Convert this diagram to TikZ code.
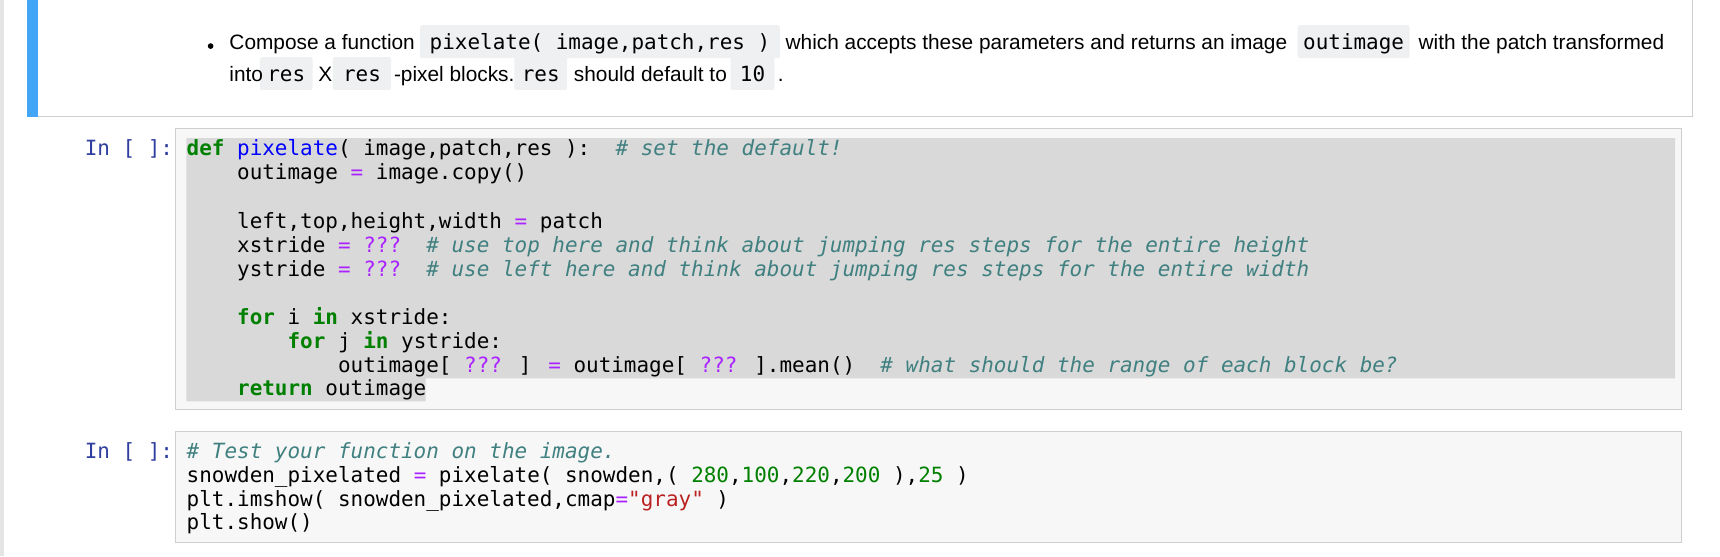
\documentclass[tikz,border=0pt]{standalone}
\usepackage{fontspec}
\setmainfont{Liberation Sans}
\newfontfamily\codefont{DejaVu Sans Mono}
\definecolor{kwc}{HTML}{008000}
\definecolor{fnc}{HTML}{0000FF}
\definecolor{cmc}{HTML}{408080}
\definecolor{opc}{HTML}{AA22FF}
\definecolor{stc}{HTML}{BA2121}
\definecolor{promptc}{HTML}{303F9F}
\definecolor{cellbg}{HTML}{F7F7F7}
\definecolor{cellbd}{HTML}{CFCFCF}
\definecolor{selbg}{HTML}{D9D9D9}
\definecolor{chipbg}{HTML}{EEF0F2}
\definecolor{bluebar}{HTML}{42A5F5}
\newcommand\kw[1]{\textcolor{kwc}{\bfseries #1}}
\newcommand\fnm[1]{\textcolor{fnc}{#1}}
\newcommand\cmt[1]{\textcolor{cmc}{\itshape #1}}
\newcommand\opr[1]{\textcolor{opc}{#1}}
\newcommand\numb[1]{\textcolor{kwc}{#1}}
\newcommand\strg[1]{\textcolor{stc}{#1}}
\newcommand\ind[1]{\hspace*{#1\dimexpr 11.5pt\relax}}
\begin{document}
\begin{tikzpicture}[x=1pt,y=-1pt,scale=1.097,every node/.append style={transform shape},
  code/.style={anchor=base west,inner sep=0pt,font=\codefont\fontsize{19.1}{21}\selectfont},
  md/.style={anchor=base west,inner sep=0pt,font=\fontsize{19}{22}\selectfont},
  chip/.style={fill=chipbg,rounded corners=2pt,inner sep=0pt},
  prompt/.style={anchor=base east,inner sep=0pt,text=promptc,font=\codefont\fontsize{19.1}{21}\selectfont}]
\useasboundingbox (0,0) rectangle (1568,507);
\fill[white] (0,0) rectangle (1568,507);
\fill[gray!20] (0,0) rectangle (4,507);
% markdown cell
\draw[cellbd,line width=1.5pt] (1543,0) -- (1543,106) -- (25,106);
\fill[bluebar] (25,0) rectangle (35,107);
\fill (192,42) circle (2.6);
\node[chip,minimum width=328,minimum height=30] (c1) at (547,38) {};
\node[chip,minimum width=102,minimum height=30] (c2) at (1234,38) {};
\node[chip,minimum width=48,minimum height=30] (c3) at (261,67) {};
\node[chip,minimum width=53,minimum height=30] (c4) at (330,67) {};
\node[chip,minimum width=48,minimum height=30] (c5) at (493,67) {};
\node[chip,minimum width=40,minimum height=30] (c6) at (686,67) {};
\node[md] (t1) at (209,45) {Compose a function};
\node[code,anchor=base] (k1) at (547,45) {pixelate(\ image,patch,res\ )};
\node[md] (t2) at (716,45) {which accepts these parameters and returns an image};
\node[code,anchor=base] (k2) at (1234,45) {outimage};
\node[md] (t3) at (1293,45) {with the patch transformed};
\node[md] (t4) at (209,74) {into};
\node[code,anchor=base] (k3) at (261,74) {res};
\node[md] (t5) at (290,74) {X};
\node[code,anchor=base] (k4) at (330,74) {res};
\node[md] (t6) at (359,74) {-pixel blocks.};
\node[code,anchor=base] (k5) at (493,74) {res};
\node[md] (t7) at (523,74) {should default to};
\node[code,anchor=base] (k6) at (686,74) {10};
\node[md] (t8) at (709,74) {.};
% code cell 1
\draw[cellbd,fill=cellbg,line width=1pt] (160,117) rectangle (1533,373);
\fill[selbg] (170,126) -- (1527,126) -- (1527,345) -- (388,345) -- (388,366) -- (170,366) -- cycle;
\node[prompt] (p1) at (158,142) {In [ ]:};
\node[code] (l1) at (170,142) {\kw{def} \fnm{pixelate}( image,patch,res ):\ \ \cmt{\# set the default!}};
\node[code] (l2) at (170,164) {\ind{4}outimage \opr{=} image.copy()};
\node[code] (l4) at (170,208) {\ind{4}left,top,height,width \opr{=} patch};
\node[code] (l5) at (170,230) {\ind{4}xstride \opr{=} \opr{???}\ \ \cmt{\# use top here and think about jumping res steps for the entire height}};
\node[code] (l6) at (170,252) {\ind{4}ystride \opr{=} \opr{???}\ \ \cmt{\# use left here and think about jumping res steps for the entire width}};
\node[code] (l8) at (170,296) {\ind{4}\kw{for} i \kw{in} xstride:};
\node[code] (l9) at (170,318) {\ind{8}\kw{for} j \kw{in} ystride:};
\node[code] (l10) at (170,340) {\ind{12}outimage[ \opr{???} ] \opr{=} outimage[ \opr{???} ].mean()\ \ \cmt{\# what should the range of each block be?}};
\node[code] (l11) at (170,361) {\ind{4}\kw{return} outimage};
% code cell 2
\draw[cellbd,fill=cellbg,line width=1pt] (160,393) rectangle (1533,495);
\node[prompt] (p2) at (158,418) {In [ ]:};
\node[code] (m1) at (170,418) {\cmt{\# Test your function on the image.}};
\node[code] (m2) at (170,440) {snowden\_pixelated \opr{=} pixelate( snowden,( \numb{280},\numb{100},\numb{220},\numb{200} ),\numb{25} )};
\node[code] (m3) at (170,462) {plt.imshow( snowden\_pixelated,cmap\opr{=}\strg{"gray"} )};
\node[code] (m4) at (170,483) {plt.show()};
\end{tikzpicture}
\end{document}
